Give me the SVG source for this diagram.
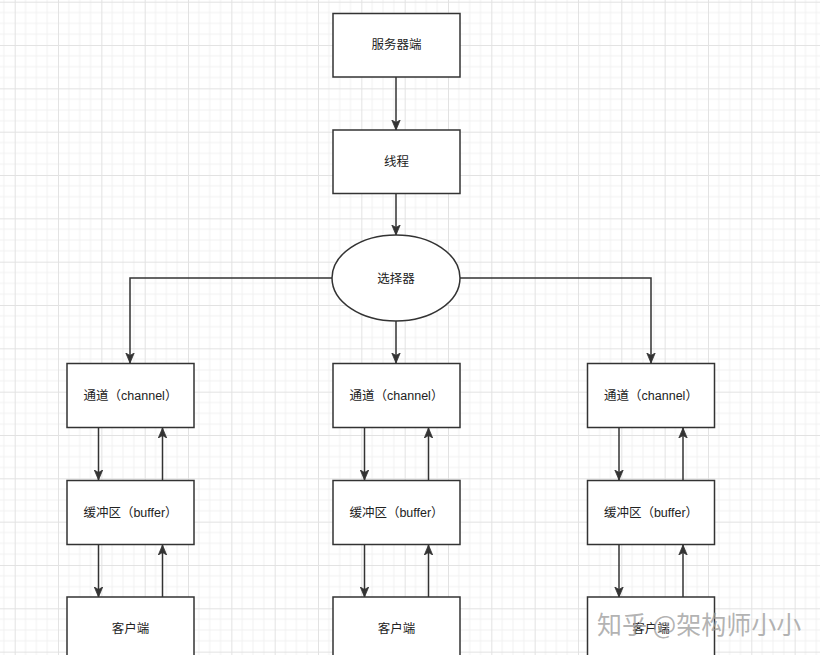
<svg xmlns="http://www.w3.org/2000/svg" width="820" height="655" viewBox="0 0 820 655">
  <defs>
    <pattern id="grid" patternUnits="userSpaceOnUse" x="14.7" y="1.7" width="43.33" height="43.33">
      <path d="M10.83,0V43.33M21.67,0V43.33M32.5,0V43.33M0,10.83H43.33M0,21.67H43.33M0,32.5H43.33" fill="none" stroke="#f1f1f1" stroke-width="1"/>
      <path d="M0.5,0V43.33M0,0.5H43.33" fill="none" stroke="#e2e2e2" stroke-width="1"/>
    </pattern>
    <marker id="arr" markerUnits="userSpaceOnUse" markerWidth="12" markerHeight="10" refX="10" refY="5" orient="auto">
      <path d="M0,0.8 L10,5 L0,9.2 L2.5,5 Z" fill="#333" stroke="#333" stroke-width="0.8"/>
    </marker>
    <style>
      .node rect, .node ellipse { fill: #fff; stroke: #333; stroke-width: 1.5; }
      .node text { font-family: "Liberation Sans", "Noto Sans CJK SC", sans-serif; font-size: 12.5px; fill: #222; text-anchor: middle; dominant-baseline: central; }
      .edges path { fill: none; stroke: #333; stroke-width: 1.5; marker-end: url(#arr); }
      .wm { font-family: "Noto Sans CJK SC", sans-serif; font-size: 25px; fill: #9a9a9a; fill-opacity: 0.75; }
    </style>
  </defs>
  <rect x="0" y="0" width="820" height="655" fill="#fff"/>
  <rect x="0" y="0" width="820" height="655" fill="url(#grid)"/>

  <g class="edges" id="connectors">
    <path d="M396,77 V130"/>
    <path d="M396,193 V235"/>
    <path d="M332,278 H130 V363"/>
    <path d="M460,278 H651 V363"/>
    <path d="M396,321 V363"/>
    <path d="M98.5,428 V480"/>
    <path d="M162.5,480 V428"/>
    <path d="M98.5,545 V597"/>
    <path d="M162.5,597 V545"/>
    <path d="M364.5,428 V480"/>
    <path d="M428.5,480 V428"/>
    <path d="M364.5,545 V597"/>
    <path d="M428.5,597 V545"/>
    <path d="M619,428 V480"/>
    <path d="M683,480 V428"/>
    <path d="M619,545 V597"/>
    <path d="M683,597 V545"/>
  </g>

  <g class="node" id="server"><rect x="333" y="13.5" width="127" height="63.5"/><text x="396.5" y="45">服务器端</text></g>
  <g class="node" id="thread"><rect x="333" y="130" width="127" height="63.5"/><text x="396.5" y="162">线程</text></g>
  <g class="node" id="selector"><ellipse cx="396" cy="278" rx="64" ry="43"/><text x="396" y="279">选择器</text></g>

  <g class="node" id="channel1"><rect x="67" y="363.5" width="127" height="64"/><text x="130.5" y="396">通道（channel）</text></g>
  <g class="node" id="channel2"><rect x="333" y="363.5" width="127" height="64"/><text x="396.5" y="396">通道（channel）</text></g>
  <g class="node" id="channel3"><rect x="587.5" y="363.5" width="127" height="64"/><text x="651" y="396">通道（channel）</text></g>

  <g class="node" id="buffer1"><rect x="67" y="480.5" width="127" height="64"/><text x="130.5" y="513">缓冲区（buffer）</text></g>
  <g class="node" id="buffer2"><rect x="333" y="480.5" width="127" height="64"/><text x="396.5" y="513">缓冲区（buffer）</text></g>
  <g class="node" id="buffer3"><rect x="587.5" y="480.5" width="127" height="64"/><text x="651" y="513">缓冲区（buffer）</text></g>

  <g class="node" id="client1"><rect x="67" y="597" width="127" height="64"/><text x="130.5" y="629">客户端</text></g>
  <g class="node" id="client2"><rect x="333" y="597" width="127" height="64"/><text x="396.5" y="629">客户端</text></g>
  <g class="node" id="client3"><rect x="587.5" y="597" width="127" height="64"/><text x="651" y="629">客户端</text></g>

  <text class="wm" x="597" y="634">知乎 @架构师小小</text>
</svg>
